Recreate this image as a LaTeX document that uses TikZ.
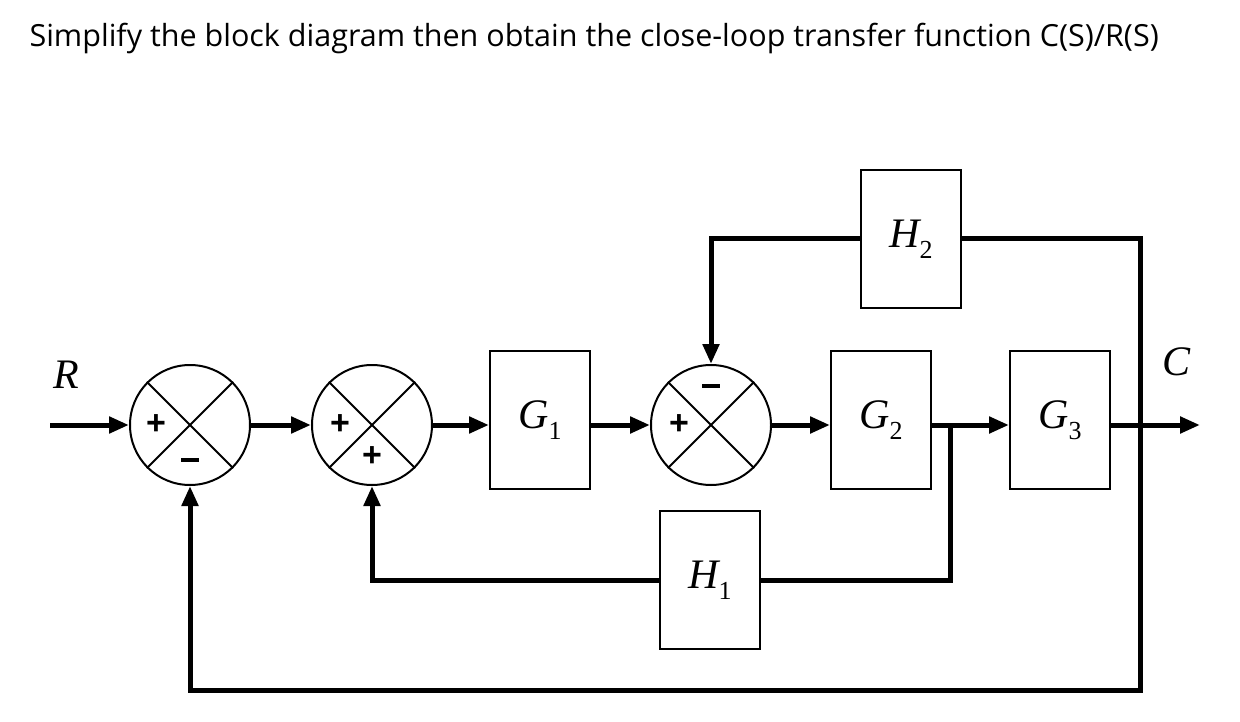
\documentclass[tikz,border=0pt]{standalone}
\usepackage{fontspec}
\setmainfont{Liberation Serif}
\newfontfamily\ttl{Open Sans}
\newfontfamily\sgf{Liberation Sans}
\usetikzlibrary{arrows.meta}
\newcommand{\sbs}[1]{\raisebox{-0.25em}{\fontsize{26}{26}\selectfont\upshape #1}}
\begin{document}
\begin{tikzpicture}[x=1pt,y=-1pt,
  ln/.style={line width=5pt},
  ar/.style={ln,-{Triangle[length=20pt,width=16pt]}},
  blk/.style={draw,line width=2pt,minimum width=100pt,minimum height=138pt,font=\fontsize{42}{42}\selectfont\itshape},
  sum/.style={draw,line width=2pt,circle,minimum size=120pt,inner sep=0pt},
  sg/.style={font=\sgf\fontsize{34}{34}\selectfont\bfseries}]
\useasboundingbox (0,0) rectangle (1240,722);
\node[anchor=west,font=\ttl\fontsize{30.5}{30}\selectfont] (title) at (26,38) {Simplify the block diagram then obtain the close-loop transfer function C(S)/R(S)};
\node[sum] (s1) at (190,425) {};
\node[sum] (s2) at (372,425) {};
\node[sum] (s3) at (711,425) {};
\foreach \s in {s1,s2,s3}{\draw[line width=2pt] (\s.45)--(\s.225) (\s.135)--(\s.315);}
\node[sg] (p1) at (156,425) {+}; \node[sg] (m1) at (190,460) {\rule{18pt}{3.5pt}};
\node[sg] (p2) at (340,425) {+}; \node[sg] (p3) at (372,457) {+};
\node[sg] (p4) at (679,425) {+}; \node[sg] (m2) at (711,386) {\rule{18pt}{3.5pt}};
\node[blk] (g1) at (540,420) {G\sbs{1}};
\node[blk] (g2) at (881,420) {G\sbs{2}};
\node[blk] (g3) at (1060,420) {G\sbs{3}};
\node[blk] (h2) at (911,239) {H\sbs{2}};
\node[blk] (h1) at (710,580) {H\sbs{1}};
\node[font=\fontsize{42}{42}\selectfont\itshape] (R) at (66,375) {R};
\node[font=\fontsize{42}{42}\selectfont\itshape] (C) at (1176,362) {C};
\coordinate (in) at (50,425);
\coordinate (out) at (1200,425);
\coordinate (tc) at (1140,425);
\coordinate (th) at (950,425);
\draw[ar] (in)--(s1);
\draw[ar] (s1)--(s2);
\draw[ar] (s2)--(g1.west|-s2);
\draw[ar] (g1.east|-s3)--(s3);
\draw[ar] (s3)--(g2.west|-s3);
\draw[ar] (g2.east|-s3)--(g3.west|-s3);
\draw[ar] (g3.east|-s3)--(out);
\draw[ln] (tc)--(tc|-h2)--(h2.east);
\draw[ar] (h2.west)--(s3|-h2)--(s3.north);
\draw[ar] (tc)--(1140,690)--(190,690)--(s1.south);
\draw[ln] (th)--(th|-h1)--(h1.east);
\draw[ar] (h1.west)--(s2|-h1)--(s2.south);
\end{tikzpicture}
\end{document}
